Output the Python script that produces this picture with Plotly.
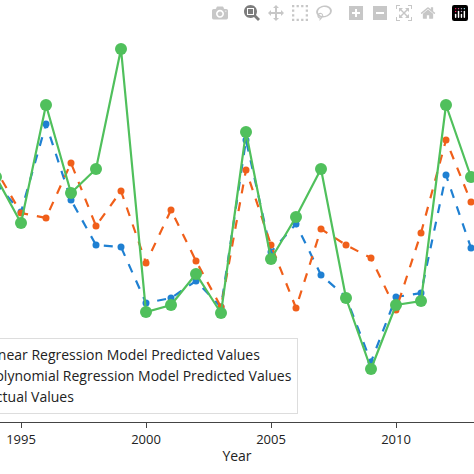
import plotly.graph_objects as go

years = list(range(1993, 2014))
linear_pred = [400, 239, 210, 298, 222, 177, 175, 119, 124, 141, 115, 282, 170, 198, 147, 125, 60, 125, 129, 247, 174]
poly_pred = [400, 252, 209, 204, 259, 196, 231, 159, 212, 161, 115, 252, 177, 114, 193, 177, 164, 112, 189, 282, 220]
actual = [400, 245, 199, 317, 229, 253, 373, 110, 117, 148, 109, 290, 163, 205, 253, 124, 53, 117, 121, 317, 245]

fig = go.Figure()
fig.add_trace(go.Scatter(x=years, y=linear_pred, name="Linear Regression Model Predicted Values",
                         mode="lines+markers", line=dict(color="#1f80d2", width=2.2, dash="dash"),
                         marker=dict(size=7)))
fig.add_trace(go.Scatter(x=years, y=poly_pred, name="Polynomial Regression Model Predicted Values",
                         mode="lines+markers", line=dict(color="#f05f1a", width=2.2, dash="dash"),
                         marker=dict(size=7)))
fig.add_trace(go.Scatter(x=years, y=actual, name="Actual Values",
                         mode="lines+markers", line=dict(color="#50c05c", width=2.2),
                         marker=dict(size=12)))

fig.update_layout(
    width=474, height=474,
    margin=dict(l=0, r=0, t=0, b=52, autoexpand=False),
    plot_bgcolor="white", paper_bgcolor="white",
    font=dict(family="Open Sans, DejaVu Sans", size=14, color="#222"),
    legend=dict(x=298 / 474, xanchor="right", y=0.02, yanchor="bottom",
                bgcolor="white", bordercolor="#ddd", borderwidth=1,
                font=dict(size=14), itemwidth=30, tracegroupgap=0),
    xaxis=dict(range=[1994.16, 2013.12], title=dict(text="Year", standoff=4, font=dict(size=14)),
               tickvals=[1995, 2000, 2005, 2010], ticks="outside", ticklen=5,
               tickfont=dict(size=13),
               showline=True, linecolor="#444", showgrid=False, zeroline=False),
    yaxis=dict(range=[0, 422], visible=False),
)
fig.write_html("out.html", post_script="document.body.style.margin='0';document.body.style.overflow='hidden';")
